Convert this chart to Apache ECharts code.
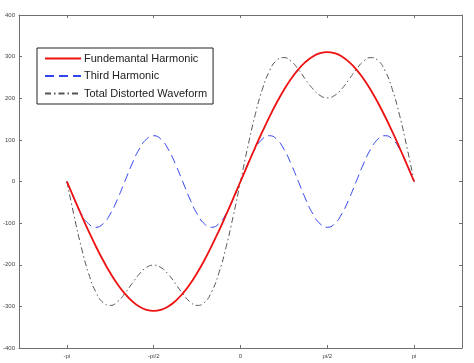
<!DOCTYPE html>
<html><head><meta charset="utf-8">
<script src="https://cdn.jsdelivr.net/npm/echarts@6/dist/echarts.min.js"></script>
<style>html,body{margin:0;padding:0;background:#fff}#c{width:474px;height:363px}</style>
</head><body><div id="c"></div>
<script>
var xValues = [-3.142,-3.011,-2.880,-2.749,-2.618,-2.487,-2.356,-2.225,-2.094,-1.963,-1.833,-1.702,-1.571,-1.440,-1.309,-1.178,-1.047,-0.916,-0.785,-0.654,-0.524,-0.393,-0.262,-0.131,0,
  0.131,0.262,0.393,0.524,0.654,0.785,0.916,1.047,1.178,1.309,1.440,1.571,1.702,1.833,1.963,2.094,2.225,2.356,2.487,2.618,2.749,2.880,3.011,3.142];
var fundamental = [0,-40.6,-80.5,-119.0,-155.5,-189.3,-219.9,-246.7,-269.3,-287.3,-300.4,-308.3,-311,-308.3,-300.4,-287.3,-269.3,-246.7,-219.9,-189.3,-155.5,-119.0,-80.5,-40.6,0,
  40.6,80.5,119.0,155.5,189.3,219.9,246.7,269.3,287.3,300.4,308.3,311,308.3,300.4,287.3,269.3,246.7,219.9,189.3,155.5,119.0,80.5,40.6,0];
var third = [0,-42.1,-77.8,-101.6,-110,-101.6,-77.8,-42.1,0,42.1,77.8,101.6,110,101.6,77.8,42.1,0,-42.1,-77.8,-101.6,-110,-101.6,-77.8,-42.1,0,
  42.1,77.8,101.6,110,101.6,77.8,42.1,0,-42.1,-77.8,-101.6,-110,-101.6,-77.8,-42.1,0,42.1,77.8,101.6,110,101.6,77.8,42.1,0];
var total = [0,-82.7,-158.3,-220.6,-265.5,-290.9,-297.7,-288.8,-269.3,-245.2,-222.6,-206.7,-201,-206.7,-222.6,-245.2,-269.3,-288.8,-297.7,-290.9,-265.5,-220.6,-158.3,-82.7,0,
  82.7,158.3,220.6,265.5,290.9,297.7,288.8,269.3,245.2,222.6,206.7,201,206.7,222.6,245.2,269.3,288.8,297.7,290.9,265.5,220.6,158.3,82.7,0];
var xTickValues = [-3.1416,-1.5708,0,1.5708,3.1416];
var xTickLabels = ['-pi','-pi/2','0','pi/2','pi'];
var seriesNames = ['Fundemantal Harmonic','Third Harmonic','Total Distorted Waveform'];

function pairs(ys){ return xValues.map(function(x,i){ return [x, ys[i]]; }); }
var axisColor = '#6f6f6f';
var font = 'Liberation Sans, Arial, sans-serif';
var chart = echarts.init(document.getElementById('c'));
chart.setOption({
  animation:false,
  backgroundColor:'#fff',
  grid:{left:19,top:15,right:12,bottom:15,containLabel:false},
  legend:{
    orient:'vertical', left:37, top:48,
    backgroundColor:'#fff', borderColor:'#222', borderWidth:1,
    padding:[5,6,5,7], itemWidth:36, itemHeight:10, itemGap:6.5,
    itemStyle:{opacity:0},
    textStyle:{fontFamily:font,fontSize:11,color:'#222',padding:[0,0,0,-2]},
    data:seriesNames
  },
  xAxis:[{
    type:'value', min:-4.008, max:4.008, position:'bottom',
    axisLine:{onZero:false,lineStyle:{color:axisColor,width:1}},
    splitLine:{show:false},
    axisTick:{inside:true,length:3,customValues:xTickValues,lineStyle:{color:axisColor}},
    axisLabel:{customValues:xTickValues,fontFamily:font,fontSize:6,color:'#444',margin:5,
      formatter:function(v){ var i=xTickValues.indexOf(v); return i>=0?xTickLabels[i]:''; }}
  },{
    type:'value', min:-4.008, max:4.008, position:'top',
    axisLine:{show:true,onZero:false,lineStyle:{color:axisColor,width:1}},
    splitLine:{show:false},
    axisTick:{inside:true,length:3,customValues:xTickValues,lineStyle:{color:axisColor}},
    axisLabel:{show:false}
  }],
  yAxis:[{
    type:'value', min:-400, max:400, interval:100, position:'left',
    axisLine:{show:true,onZero:false,lineStyle:{color:axisColor,width:1}},
    splitLine:{show:false},
    axisTick:{show:true,inside:true,length:3,lineStyle:{color:axisColor}},
    axisLabel:{fontFamily:font,fontSize:6,color:'#444',margin:4}
  },{
    type:'value', min:-400, max:400, interval:100, position:'right',
    axisLine:{show:true,onZero:false,lineStyle:{color:axisColor,width:1}},
    splitLine:{show:false},
    axisTick:{show:true,inside:true,length:3,lineStyle:{color:axisColor}},
    axisLabel:{show:false}
  }],
  series:[{
    name:seriesNames[0], type:'line', smooth:true, symbol:'none',
    data:pairs(fundamental), lineStyle:{color:'#ee1111',width:1.8}, itemStyle:{color:'#ee1111'}, z:3
  },{
    name:seriesNames[1], type:'line', smooth:true, symbol:'none',
    data:pairs(third), lineStyle:{color:'#3344ee',width:1,type:[9,5]}, itemStyle:{color:'#3344ee'}, z:2
  },{
    name:seriesNames[2], type:'line', smooth:true, symbol:'none',
    data:pairs(total), lineStyle:{color:'#555555',width:1,type:[6,3,1.5,3]}, itemStyle:{color:'#555555'}, z:2
  }]
});
</script></body></html>
